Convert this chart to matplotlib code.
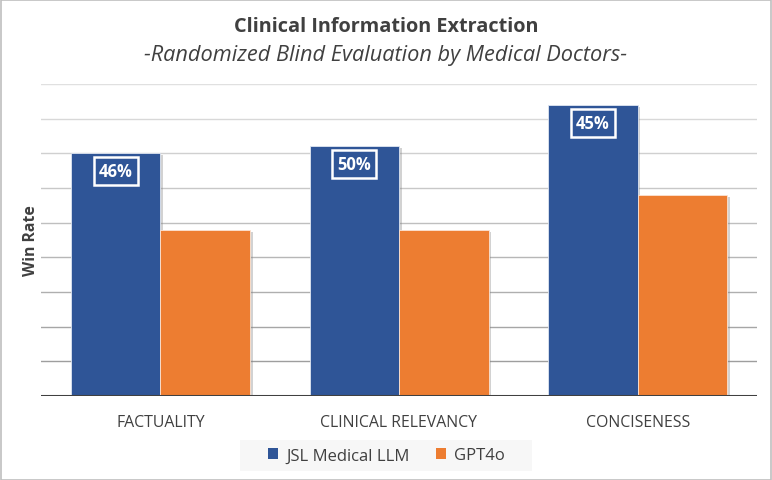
import matplotlib
matplotlib.use("Agg")
import matplotlib.pyplot as plt
import matplotlib.patheffects as pe
from matplotlib.patches import Patch, Rectangle
import numpy as np

categories = ["FACTUALITY", "CLINICAL RELEVANCY", "CONCISENESS"]
jsl_values = [35, 36, 42]
gpt_values = [24, 24, 29]
improvement_labels = ["46%", "50%", "45%"]
series_names = ["JSL Medical LLM", "GPT4o"]

BLUE = "#2f5597"
ORANGE = "#ed7d31"

plt.rcParams['font.family'] = ['Open Sans', 'DejaVu Sans']

fig = plt.figure(figsize=(7.72, 4.81), dpi=100)
ax = fig.add_axes([41/772, 84/481, (757-41)/772, (397-85)/481])

x = np.arange(len(categories))
w = 0.375
shadow = [pe.SimplePatchShadow(offset=(2, -1.5), shadow_rgbFace='#808080', alpha=0.35), pe.Normal()]
b1 = ax.bar(x - w/2, jsl_values, w, color=BLUE, edgecolor='#dfe6f2', linewidth=0.6, zorder=3)
b2 = ax.bar(x + w/2, gpt_values, w, color=ORANGE, edgecolor='#fbe3d3', linewidth=0.6, zorder=3)
for b in list(b1) + list(b2):
    b.set_path_effects(shadow)

ax.set_xlim(-0.5, 2.5)
ax.set_ylim(0, 45)

# gradient gridlines
grid_vals = np.arange(5, 46, 5)
cols = np.linspace(0.62, 0.88, len(grid_vals))
for gv, c in zip(grid_vals, cols):
    ax.axhline(gv, color=(c, c, c), linewidth=1.0, zorder=1)
ax.axhline(0, color='#404040', linewidth=2.2, zorder=4)

for s in ax.spines.values():
    s.set_visible(False)
ax.set_yticks([])
ax.set_xticks(x)
ax.set_xticklabels(categories, fontsize=11.4, color='#404040')
ax.tick_params(axis='x', length=0, pad=13)

for xi, v, lab in zip(x, jsl_values, improvement_labels):
    ax.annotate(lab, xy=(xi - w/2, v), xytext=(0, -18), textcoords='offset pixels',
                ha='center', va='center', color='white', fontsize=12, fontweight='bold', zorder=5,
                bbox=dict(boxstyle='square,pad=0.3', facecolor='none', edgecolor='white', linewidth=1.8))

ax.set_ylabel("Win Rate", fontsize=11.3, fontweight='bold', color='#404040')
ax.yaxis.set_label_coords(-0.003, 0.5)

fig.text(0.5, 1 - 27/481, "Clinical Information Extraction", ha='center', va='center',
         fontsize=14.3, fontweight='bold', color='#404040')
fig.text(0.5, 1 - 55/481, "-Randomized Blind Evaluation by Medical Doctors-", ha='center', va='center',
         fontsize=15.7, style='italic', color='#404040')

fig.patches.append(Rectangle((240/772, 1 - 472/481), 292/772, 31/481, transform=fig.transFigure,
                             facecolor='#f7f7f7', edgecolor='none', zorder=0))
handles = [Patch(facecolor=BLUE), Patch(facecolor=ORANGE)]
leg = fig.legend(handles, series_names, loc='center left', bbox_to_anchor=(256/772, 1 - 456.5/481),
                 ncol=2, frameon=False, fontsize=12, handlelength=0.6, handleheight=0.6,
                 handletextpad=0.5, columnspacing=1.6, borderpad=0.2, labelcolor='#404040')

fig.patches.append(Rectangle((0.5/772, 0.5/481), 1 - 1.5/772, 1 - 1.5/481, transform=fig.transFigure,
                             fill=False, edgecolor='#bfbfbf', linewidth=1.2))

fig.savefig("out.png", dpi=100)
